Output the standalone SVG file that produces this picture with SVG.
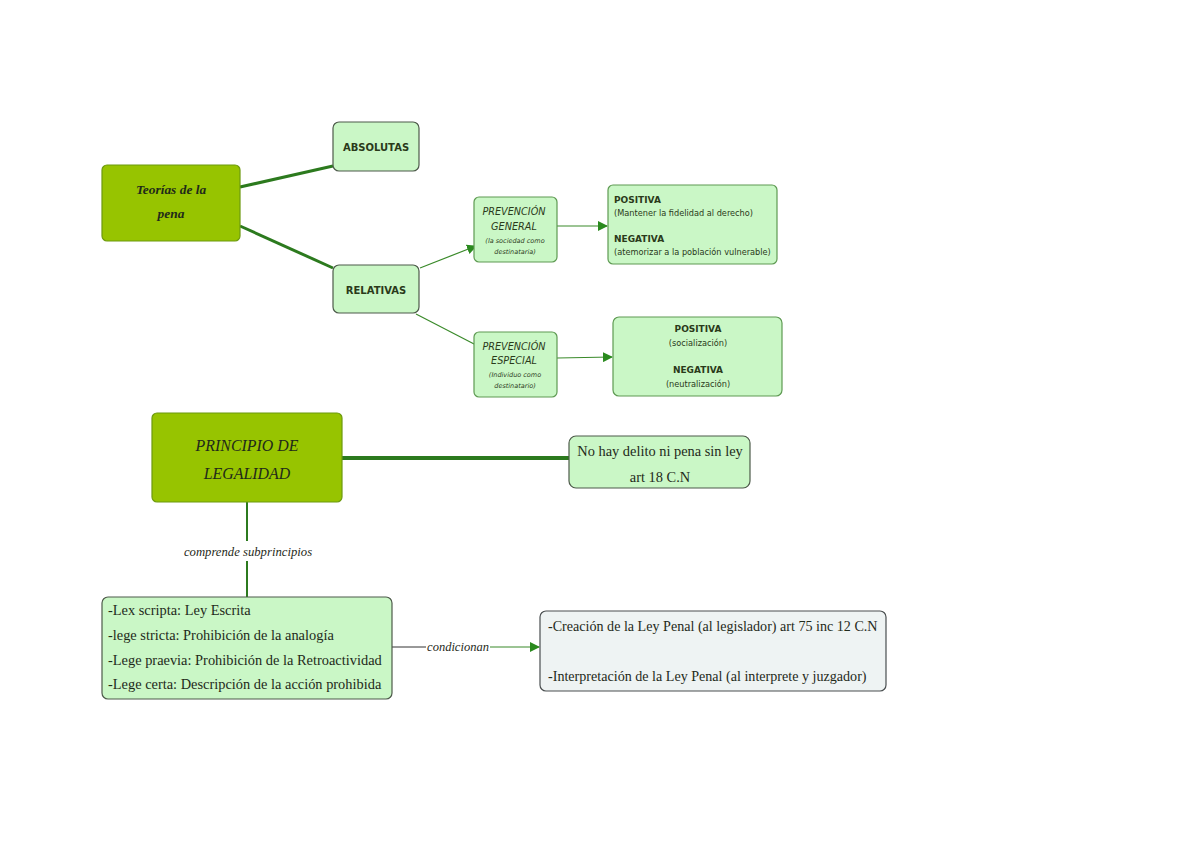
<svg xmlns="http://www.w3.org/2000/svg" width="1200" height="849" viewBox="0 0 1200 849">
<defs>
<marker id="arr" viewBox="0 0 10 10" refX="9" refY="5" markerWidth="10" markerHeight="10" markerUnits="userSpaceOnUse" orient="auto"><path d="M0,0 L10,5 L0,10 z" fill="#2a8a1e"/></marker>
<style>
.dark{fill:#97c400;stroke:#6d9a0e;stroke-width:1.2}
.light{fill:#caf7c6;stroke:#4d5a4a;stroke-width:1.2}
.lightg{fill:#caf7c6;stroke:#5e9a52;stroke-width:1.2}
.grey{fill:#eef3f3;stroke:#4a4f50;stroke-width:1.2}
.thick{stroke:#2c7a1e;stroke-width:3;fill:none}
.thin{stroke:#3a8a2a;stroke-width:1.2;fill:none}
.vert{stroke:#2c7a1e;stroke-width:2;fill:none}
.sans{font-family:"DejaVu Sans",Verdana,sans-serif;fill:#2a3a1a}
.serif{font-family:"Liberation Serif","DejaVu Serif",serif;fill:#1f2a1a}
.body{font-size:14.4px}
.body2{font-size:14.1px}
</style>
</defs>
<rect width="1200" height="849" fill="#ffffff"/>
<g id="connectors">
<line class="thick" x1="240" y1="187" x2="333" y2="166"/>
<line class="thick" x1="240" y1="226" x2="333" y2="268"/>
<line class="thin" x1="420" y1="268" x2="476" y2="246" marker-end="url(#arr)"/>
<line class="thin" x1="557" y1="226" x2="607" y2="226" marker-end="url(#arr)"/>
<line class="thin" x1="416" y1="314" x2="476" y2="345"/>
<line class="thin" x1="557" y1="358" x2="612" y2="357" marker-end="url(#arr)"/>
<line stroke="#2c7a1e" stroke-width="4" x1="342" y1="458" x2="570" y2="458"/>
<line class="vert" x1="247" y1="502" x2="247" y2="541"/>
<line class="vert" x1="247" y1="561" x2="247" y2="597"/>
<text class="serif" x="248" y="556" font-size="12.7" font-style="italic" text-anchor="middle">comprende subprincipios</text>
<line stroke="#333" stroke-width="1" x1="392" y1="647" x2="426" y2="647"/>
<line class="thin" x1="490" y1="647" x2="539" y2="647" marker-end="url(#arr)"/>
<text class="serif" x="458" y="651" font-size="12.5" font-style="italic" text-anchor="middle">condicionan</text>
</g>
<g id="teorias">
<rect class="dark" x="102" y="165" width="138" height="76" rx="5"/>
<text class="serif" x="171" y="194" font-size="13.4" font-style="italic" font-weight="bold" text-anchor="middle" fill="#3a4a1a">Teorías de la</text>
<text class="serif" x="171" y="218" font-size="13.4" font-style="italic" font-weight="bold" text-anchor="middle" fill="#3a4a1a">pena</text>
</g>
<g id="absolutas">
<rect class="light" x="333" y="122" width="86" height="49" rx="6"/>
<text class="sans" x="376" y="151" font-size="10" font-weight="bold" text-anchor="middle">ABSOLUTAS</text>
</g>
<g id="relativas">
<rect class="light" x="333" y="265" width="86" height="48" rx="6"/>
<text class="sans" x="376" y="294" font-size="10" font-weight="bold" text-anchor="middle">RELATIVAS</text>
</g>
<g id="prevencion-general">
<rect class="lightg" x="474" y="197" width="83" height="65" rx="5"/>
<text class="sans" x="514" y="215" font-size="9.7" font-style="italic" text-anchor="middle">PREVENCIÓN</text>
<text class="sans" x="514" y="230" font-size="9.7" font-style="italic" text-anchor="middle">GENERAL</text>
<text class="sans" x="515" y="243" font-size="6.5" font-style="italic" text-anchor="middle">(la sociedad como</text>
<text class="sans" x="515" y="254" font-size="6.5" font-style="italic" text-anchor="middle">destinataria)</text>
</g>
<g id="general-tipos">
<rect class="lightg" x="608" y="185" width="169" height="79" rx="5"/>
<text class="sans" x="614" y="203" font-size="9" font-weight="bold">POSITIVA</text>
<text class="sans" x="614" y="216" font-size="8.2">(Mantener la fidelidad al derecho)</text>
<text class="sans" x="614" y="242" font-size="9" font-weight="bold">NEGATIVA</text>
<text class="sans" x="614" y="255" font-size="8.2">(atemorizar a la población vulnerable)</text>
</g>
<g id="prevencion-especial">
<rect class="lightg" x="474" y="332" width="83" height="65" rx="5"/>
<text class="sans" x="514" y="350" font-size="9.7" font-style="italic" text-anchor="middle">PREVENCIÓN</text>
<text class="sans" x="514" y="364" font-size="9.7" font-style="italic" text-anchor="middle">ESPECIAL</text>
<text class="sans" x="515" y="377" font-size="6.5" font-style="italic" text-anchor="middle">(Individuo como</text>
<text class="sans" x="515" y="388" font-size="6.5" font-style="italic" text-anchor="middle">destinatario)</text>
</g>
<g id="especial-tipos">
<rect class="lightg" x="613" y="317" width="169" height="79" rx="6"/>
<text class="sans" x="698" y="332" font-size="9" font-weight="bold" text-anchor="middle">POSITIVA</text>
<text class="sans" x="698" y="346" font-size="8.2" text-anchor="middle">(socialización)</text>
<text class="sans" x="698" y="373" font-size="9" font-weight="bold" text-anchor="middle">NEGATIVA</text>
<text class="sans" x="698" y="387" font-size="8.2" text-anchor="middle">(neutralización)</text>
</g>
<g id="principio">
<rect class="dark" x="152" y="413" width="190" height="89" rx="5"/>
<text class="serif" x="247" y="451" font-size="15.9" font-style="italic" text-anchor="middle" fill="#2a3a14">PRINCIPIO DE</text>
<text class="serif" x="247" y="479" font-size="15.9" font-style="italic" text-anchor="middle" fill="#2a3a14">LEGALIDAD</text>
</g>
<g id="no-hay-delito">
<rect class="light" x="569" y="436" width="181" height="52" rx="7"/>
<text class="serif body" x="660" y="456" text-anchor="middle">No hay delito ni pena sin ley</text>
<text class="serif body" x="660" y="482" text-anchor="middle">art 18 C.N</text>
</g>
<g id="subprincipios">
<rect class="light" x="102" y="597" width="290" height="102" rx="6"/>
<text class="serif body" x="108" y="615">-Lex scripta: Ley Escrita</text>
<text class="serif body" x="108" y="640">-lege stricta: Prohibición de la analogía</text>
<text class="serif body" x="108" y="665">-Lege praevia: Prohibición de la Retroactividad</text>
<text class="serif body" x="108" y="689">-Lege certa: Descripción de la acción prohibida</text>
</g>
<g id="condiciones">
<rect class="grey" x="540" y="611" width="346" height="80" rx="6"/>
<text class="serif body2" x="548" y="631">-Creación de la Ley Penal (al legislador) art 75 inc 12 C.N</text>
<text class="serif body2" x="548" y="681">-Interpretación de la Ley Penal (al interprete y juzgador)</text>
</g>
</svg>
